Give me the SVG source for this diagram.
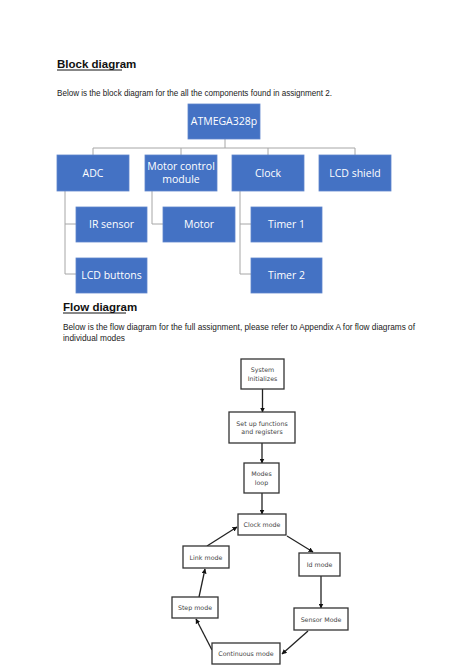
<svg xmlns="http://www.w3.org/2000/svg" width="474" height="670" viewBox="0 0 474 670">
<style>
.bg{fill:#ffffff}
.h{font-family:"Liberation Sans",Arial,sans-serif;font-weight:bold;font-size:11.5px;fill:#111}
.p{font-family:"Liberation Sans",Arial,sans-serif;font-size:9px;fill:#222}
.bb{fill:#4472C4;stroke:#5F86CC;stroke-width:0.8}
.bt{font-family:"Open Sans","Liberation Sans",sans-serif;font-size:10.5px;fill:#ffffff;text-anchor:middle}
.tree{fill:none;stroke:#A6A6A6;stroke-width:1}
.fb{fill:#ffffff;stroke:#333333;stroke-width:1.3}
.ft{font-family:"DejaVu Sans",Tahoma,sans-serif;font-size:6.3px;fill:#444;text-anchor:middle}
.fl{fill:none;stroke:#222;stroke-width:1.3}
</style>
<defs>
<marker id="ah" viewBox="0 0 10 10" refX="9" refY="5" markerWidth="5" markerHeight="5" orient="auto" markerUnits="userSpaceOnUse">
<path d="M0,0 L10,5 L0,10 z" fill="#111"/>
</marker>
</defs>
<rect class="bg" x="0" y="0" width="474" height="670"/>

<text class="h" x="57" y="68">Block diagram</text>
<line x1="57" y1="70" x2="122" y2="70" stroke="#111" stroke-width="1"/>
<text class="p" x="57" y="96" textLength="275" lengthAdjust="spacingAndGlyphs">Below is the block diagram for the all the components found in assignment 2.</text>

<g id="tree-connectors">
<path class="tree" d="M225,139 V148 M93,148 H355 M93,148 V155 M181,148 V155 M268,148 V155 M355,148 V155"/>
<path class="tree" d="M65,191 V274 M65,224 H76 M65,274 H76"/>
<path class="tree" d="M152,191 V224 H163"/>
<path class="tree" d="M240,191 V274 M240,224 H251 M240,274 H251"/>
</g>

<g id="atmega"><rect class="bb" x="188" y="104" width="72" height="35"/><text class="bt" x="224" y="125">ATMEGA328p</text></g>
<g id="adc"><rect class="bb" x="57" y="155" width="72" height="36"/><text class="bt" x="93" y="176.5">ADC</text></g>
<g id="motorctl"><rect class="bb" x="145" y="155" width="72" height="36"/><text class="bt" x="181" y="169.5">Motor control</text><text class="bt" x="181" y="183">module</text></g>
<g id="clock"><rect class="bb" x="232" y="155" width="72" height="36"/><text class="bt" x="268" y="176.5">Clock</text></g>
<g id="lcdshield"><rect class="bb" x="319" y="155" width="72" height="36"/><text class="bt" x="355" y="176.5">LCD shield</text></g>
<g id="irsensor"><rect class="bb" x="76" y="207" width="71" height="35"/><text class="bt" x="111.5" y="228">IR sensor</text></g>
<g id="lcdbuttons"><rect class="bb" x="76" y="258" width="71" height="35"/><text class="bt" x="111.5" y="279">LCD buttons</text></g>
<g id="motor"><rect class="bb" x="163" y="207" width="72" height="35"/><text class="bt" x="199" y="228">Motor</text></g>
<g id="timer1"><rect class="bb" x="251" y="207" width="71" height="35"/><text class="bt" x="286.5" y="228">Timer 1</text></g>
<g id="timer2"><rect class="bb" x="251" y="258" width="71" height="35"/><text class="bt" x="286.5" y="279">Timer 2</text></g>

<text class="h" x="63" y="311">Flow diagram</text>
<line x1="63" y1="313" x2="126" y2="313" stroke="#111" stroke-width="1"/>
<text class="p" x="63" y="330" textLength="352" lengthAdjust="spacingAndGlyphs">Below is the flow diagram for the full assignment, please refer to Appendix A for flow diagrams of</text>
<text class="p" x="63" y="341" textLength="62" lengthAdjust="spacingAndGlyphs">individual modes</text>

<g id="flow-connectors">
<line class="fl" x1="262.5" y1="389" x2="262.5" y2="412" marker-end="url(#ah)"/>
<line class="fl" x1="262" y1="443" x2="262" y2="463" marker-end="url(#ah)"/>
<line class="fl" x1="262" y1="493" x2="262" y2="514" marker-end="url(#ah)"/>
<line class="fl" x1="287" y1="536" x2="313" y2="552" marker-end="url(#ah)"/>
<line class="fl" x1="321" y1="576" x2="321" y2="608" marker-end="url(#ah)"/>
<line class="fl" x1="308" y1="631" x2="282" y2="654" marker-end="url(#ah)"/>
<line class="fl" x1="212" y1="650" x2="196" y2="619" marker-end="url(#ah)"/>
<line class="fl" x1="199" y1="597" x2="205" y2="569" marker-end="url(#ah)"/>
<line class="fl" x1="207" y1="546" x2="237" y2="527" marker-end="url(#ah)"/>
</g>

<g id="sysinit"><rect class="fb" x="241" y="359" width="43" height="30"/><text class="ft" x="262.5" y="372">System</text><text class="ft" x="262.5" y="380.5">Initializes</text></g>
<g id="setup"><rect class="fb" x="229" y="412" width="66" height="31"/><text class="ft" x="262" y="425.5">Set up functions</text><text class="ft" x="262" y="434">and registers</text></g>
<g id="modesloop"><rect class="fb" x="244" y="463" width="35" height="30"/><text class="ft" x="261.5" y="476">Modes</text><text class="ft" x="261.5" y="484.5">loop</text></g>
<g id="clockmode"><rect class="fb" x="238" y="514" width="48" height="21"/><text class="ft" x="262" y="527">Clock mode</text></g>
<g id="idmode"><rect class="fb" x="299" y="553" width="41" height="23"/><text class="ft" x="319.5" y="567">Id mode</text></g>
<g id="sensormode"><rect class="fb" x="294" y="608" width="54" height="22"/><text class="ft" x="321" y="621.5">Sensor Mode</text></g>
<g id="contmode"><rect class="fb" x="212" y="643" width="68" height="21"/><text class="ft" x="246" y="656">Continuous mode</text></g>
<g id="stepmode"><rect class="fb" x="172" y="597" width="46" height="21"/><text class="ft" x="195" y="610">Step mode</text></g>
<g id="linkmode"><rect class="fb" x="183" y="546" width="46" height="22"/><text class="ft" x="206" y="559.5">Link mode</text></g>
</svg>
